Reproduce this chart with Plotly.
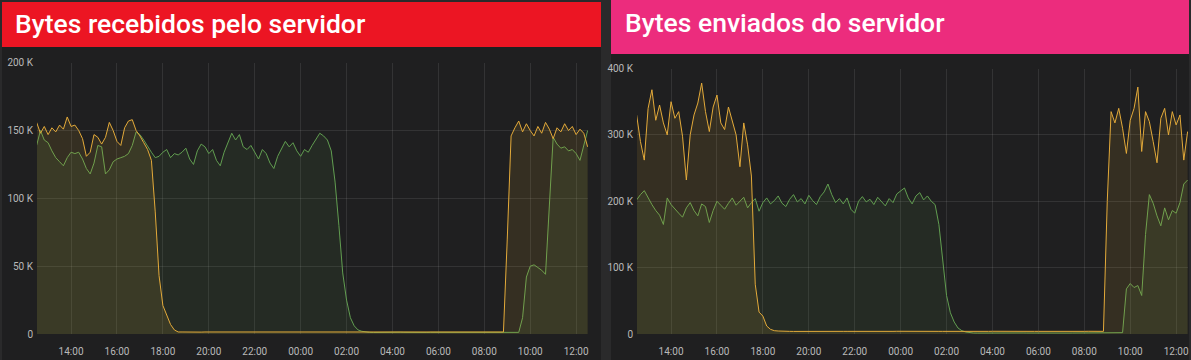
import plotly.graph_objects as go
import pandas as pd

# ---------------- data (values in K bytes, one sample every 10 minutes) ----------------
START = "2019-03-11 12:30"
STEP = "10min"

recv_yellow = [
    156, 148, 153, 147, 152, 149, 154, 151, 160, 153, 154, 150, 144, 131, 134, 147, 145, 140, 145, 156,
    150, 142, 139, 152, 157, 158, 150, 146, 141, 136, 128, 90, 43, 21, 14, 7, 3, 1.5,
    1.5, 1.4, 1.5, 1.6, 1.5, 1.4, 1.5, 1.5, 1.6, 1.5, 1.4, 1.5, 1.5, 1.6, 1.5, 1.4, 1.5, 1.5, 1.6, 1.5,
    1.4, 1.5, 1.5, 1.6, 1.5, 1.4, 1.5, 1.5, 1.6, 1.5, 1.4, 1.5, 1.5, 1.6, 1.5, 1.4, 1.5, 1.5, 1.6, 1.5,
    1.4, 1.5, 1.5, 1.6, 1.5, 1.4, 1.5, 1.5, 1.6, 1.5, 1.4, 1.5, 1.5, 1.6, 1.5, 1.4, 1.5, 1.5, 1.6, 1.5,
    1.4, 1.5, 1.5, 1.6, 1.5, 1.4, 1.5, 1.5, 1.6, 1.5, 1.4, 1.5, 1.5, 1.6, 1.5, 1.4, 1.5, 1.5, 1.6, 1.5,
    1.4, 1.5, 1.5, 1.6,
    1.5, 70, 146,
    152, 157, 149, 155, 150, 146, 153, 148, 156, 151, 144, 152, 149, 155, 150, 153, 147, 151, 148, 138,
]

recv_green = [
    139, 150, 143, 141, 135, 130, 127, 124, 130, 134, 133, 134, 129, 122, 118, 126, 139, 138, 118, 121,
    127, 129, 130, 131, 133, 139, 149, 147, 143, 138, 134, 130, 131, 134, 136, 130, 133, 132, 134, 137,
    129, 125, 135, 140,
    138, 133, 136, 128, 124, 134, 141, 148, 143, 147, 138, 136, 139, 134, 129, 136, 133, 126, 122, 131,
    137, 142, 138, 141, 135, 131, 136, 134, 139, 144, 148, 146, 143, 135, 112, 80, 45, 25, 12, 6,
    3, 2, 1.5,
    1.2, 1.1, 1.2, 1.3, 1.2, 1.1, 1.2, 1.2, 1.3, 1.2, 1.1, 1.2, 1.2, 1.3, 1.2, 1.1, 1.2, 1.2, 1.3, 1.2,
    1.1, 1.2, 1.2, 1.3, 1.2, 1.1, 1.2, 1.2, 1.3, 1.2, 1.1, 1.2, 1.2, 1.3, 1.2, 1.1, 1.2, 1.2, 1.3,
    1.2, 12, 42, 50, 51, 49, 47, 44, 95, 145, 140, 137, 138, 135, 136, 133, 128, 138, 150,
]

sent_yellow = [
    330, 290, 262, 340, 368, 322, 345, 318, 300, 350, 325, 335, 298, 232, 300, 330, 348, 378, 335, 305,
    342, 360, 318, 308, 342, 320, 300, 252, 318, 285, 238, 75, 33, 27, 12, 7, 5, 4.5,
    4, 4.1, 4, 3.9, 4, 4.1, 4, 4, 3.9, 4, 4.1, 4, 4, 3.9, 4, 4.1, 4, 4, 3.9, 4,
    4.1, 4, 4, 3.9, 4, 4.1, 4, 4, 3.9, 4, 4.1, 4, 4, 3.9, 4, 4.1, 4, 4, 3.9, 4,
    4.1, 4, 4, 3.9, 4, 4.1, 4, 4, 3.9, 4, 4.1, 4, 4, 3.9, 4, 4.1, 4, 4, 3.9, 4,
    4.1, 4, 4, 3.9, 4, 4.1, 4, 4, 3.9, 4, 4.1, 4, 4, 3.9, 4, 4.1, 4, 4, 3.9, 4,
    4.1, 4, 4, 3.9,
    4, 200,
    335, 318, 340, 310, 272, 322, 340, 372, 275, 335, 320, 290, 258, 325, 340, 300, 335, 315, 330, 262,
    305,
]

sent_green = [
    202, 210, 216, 205, 195, 186, 179, 165, 205, 195, 188, 182, 176, 190, 198, 186, 178, 196, 192, 168,
    186, 200, 194, 188, 197, 205, 194, 200, 206, 190, 198, 204,
    185, 198, 205, 196, 201, 208, 197, 192, 203, 210, 199, 204, 196, 209, 201, 195, 207, 214, 226, 210,
    198, 204, 196, 205, 188, 182, 200, 207, 199, 203, 195, 206, 200, 193, 204, 198, 211, 216, 220, 205,
    196, 208, 213, 202, 208, 200, 195,
    165, 110, 58, 32, 18, 9, 5, 3, 2,
    1.5, 1.4, 1.5, 1.6, 1.5, 1.4, 1.5, 1.5, 1.6, 1.5, 1.4, 1.5, 1.5, 1.6, 1.5, 1.4, 1.5, 1.5, 1.6, 1.5,
    1.4, 1.5, 1.5, 1.6, 1.5, 1.4, 1.5, 1.5, 1.6, 1.5, 1.4, 1.5, 1.5, 1.6, 1.5, 1.4, 1.5, 1.5, 1.6,
    2, 68, 76, 70, 73, 58, 150, 210, 197, 178, 163, 190, 172, 186, 182, 198, 226, 232,
]

recv_ticks = [0, 50, 100, 150, 200]
recv_ticktext = ["0", "50 K", "100 K", "150 K", "200 K"]
sent_ticks = [0, 100, 200, 300, 400]
sent_ticktext = ["0", "100 K", "200 K", "300 K", "400 K"]

title_left = "Bytes recebidos pelo servidor"
title_right = "Bytes enviados do servidor"
x_range = ["2019-03-11 12:31", "2019-03-12 12:31"]

times = pd.date_range(START, periods=len(recv_yellow), freq=STEP)

# ---------------- styling ----------------
W, H = 1191, 360
def px(x):
    return x / W
def py(y):
    return 1 - y / H

YELLOW = "#E3AA3A"
GREEN = "#629E51"
YELLOW_FILL = "rgba(234,184,57,0.11)"
GREEN_FILL = "rgba(98,158,81,0.10)"
PANEL = "#1f1f20"
GAP = "#2a2a2b"
GRID = "rgba(255,255,255,0.09)"
TICKFONT = dict(family="Liberation Sans Narrow, Arial Narrow, Roboto, sans-serif", size=10, color="#b9b9b9")

fig = go.Figure()

for xa, ya, g, yv in (("x", "y", recv_green, recv_yellow), ("x2", "y2", sent_green, sent_yellow)):
    fig.add_trace(go.Scatter(x=times, y=g, xaxis=xa, yaxis=ya, mode="lines",
                             line=dict(color=GREEN, width=1), fill="tozeroy", fillcolor=GREEN_FILL,
                             hoverinfo="skip", showlegend=False))
    fig.add_trace(go.Scatter(x=times, y=yv, xaxis=xa, yaxis=ya, mode="lines",
                             line=dict(color=YELLOW, width=1), fill="tozeroy", fillcolor=YELLOW_FILL,
                             hoverinfo="skip", showlegend=False))

xcommon = dict(type="date", range=x_range, dtick=7200000, tick0="2019-03-11 00:00", tickformat="%H:%M",
               showgrid=True, gridcolor=GRID, gridwidth=1, zeroline=False, showline=False, automargin=False,
               ticks="outside", ticklen=8, tickcolor="rgba(0,0,0,0)", tickfont=TICKFONT, fixedrange=True)
ycommon = dict(showgrid=True, gridcolor=GRID, gridwidth=1, zeroline=False, showline=False, automargin=False,
               ticks="outside", ticklen=1, tickcolor="rgba(0,0,0,0)", tickfont=TICKFONT, fixedrange=True)

fig.update_layout(
    width=W, height=H, autosize=False,
    margin=dict(l=0, r=0, t=0, b=0, pad=0, autoexpand=False),
    paper_bgcolor=GAP, plot_bgcolor="rgba(0,0,0,0)",
    xaxis=dict(domain=[px(37), px(588)], anchor="y", **xcommon),
    yaxis=dict(domain=[py(334), py(62.7)], anchor="x", range=[0, 200],
               tickvals=recv_ticks, ticktext=recv_ticktext, **ycommon),
    xaxis2=dict(domain=[px(637), px(1188)], anchor="y2", **xcommon),
    yaxis2=dict(domain=[py(334), py(68.5)], anchor="x2", range=[0, 400],
                tickvals=sent_ticks, ticktext=sent_ticktext, **ycommon),
    shapes=[
        dict(type="rect", xref="paper", yref="paper", x0=px(2), x1=px(601), y0=py(360), y1=py(2),
             fillcolor=PANEL, line_width=0, layer="below"),
        dict(type="rect", xref="paper", yref="paper", x0=px(611), x1=px(1189), y0=py(360), y1=py(0),
             fillcolor=PANEL, line_width=0, layer="below"),
        dict(type="rect", xref="paper", yref="paper", x0=px(2), x1=px(601), y0=py(47), y1=py(2),
             fillcolor="#EC1523", line_width=0, layer="below"),
        dict(type="rect", xref="paper", yref="paper", x0=px(611), x1=px(1189), y0=py(54), y1=py(0),
             fillcolor="#EC2C7D", line_width=0, layer="below"),
    ],
    annotations=[
        dict(text=title_left, xref="paper", yref="paper", x=px(13), y=py(23.5), xanchor="left",
             yanchor="middle", showarrow=False,
             font=dict(family="Roboto, sans-serif", size=26.5, color="#ffffff", weight=500)),
        dict(text=title_right, xref="paper", yref="paper", x=px(623), y=py(22.5), xanchor="left",
             yanchor="middle", showarrow=False,
             font=dict(family="Roboto, sans-serif", size=26.5, color="#ffffff", weight=500)),
    ],
)

fig.write_html("out.html",
               post_script="document.body.style.margin='0';document.documentElement.style.overflow='hidden';")
